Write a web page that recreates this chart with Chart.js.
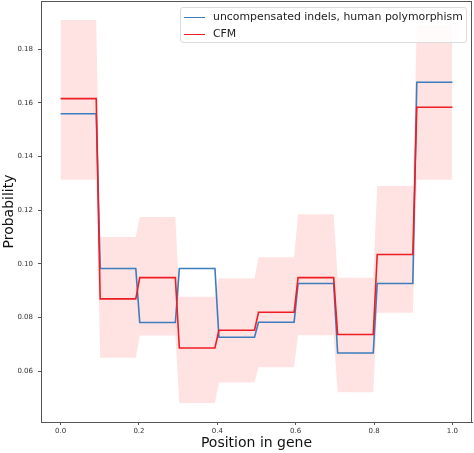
<!DOCTYPE html>
<html>
<head>
<meta charset="utf-8">
<script src="https://cdn.jsdelivr.net/npm/chart.js@4.4.1/dist/chart.umd.min.js"></script>
<style>
  html, body { margin: 0; padding: 0; background: #fff; }
  #wrap { position: relative; width: 474px; height: 453px; }
  #legend {
    position: absolute; left: 180px; top: 7px; width: 285px; height: 34px;
    border: 1px solid #dcdcdc; border-radius: 3px; background: rgba(255,255,255,0.85);
    font-family: "DejaVu Sans", sans-serif; font-size: 10.9px; color: #222;
  }
  .row { position: absolute; left: 0; height: 16px; line-height: 16px; white-space: nowrap; }
  .swatch { position: absolute; left: 3px; top: 8px; width: 21px; height: 0; border-top: 1.6px solid; }
  .label { position: absolute; left: 32px; top: 0; }
</style>
</head>
<body>
<div id="wrap">
  <canvas id="chart"></canvas>
  <div id="legend"></div>
</div>
<script>
// ---------- Data ----------
const nSamples = 100;   // punkte entlang des gens
const perBin = 10;      // samples pro bin
const uncompensated = [0.156, 0.0983, 0.0782, 0.0983, 0.0727, 0.0783, 0.0927, 0.0668, 0.0927, 0.1677];
const cfm           = [0.1616, 0.0870, 0.0949, 0.0687, 0.0753, 0.0820, 0.0949, 0.0737, 0.1035, 0.1584];
const cfmUpper      = [0.1909, 0.1100, 0.1175, 0.0878, 0.0947, 0.1025, 0.1185, 0.0949, 0.1291, 0.1890];
const cfmLower      = [0.1314, 0.0650, 0.0733, 0.0482, 0.0558, 0.0615, 0.0734, 0.0522, 0.0818, 0.1314];
const xTicks = [0.0, 0.2, 0.4, 0.6, 0.8, 1.0];
const yTicks = [0.06, 0.08, 0.10, 0.12, 0.14, 0.16, 0.18];
const seriesNames = ['uncompensated indels, human polymorphism', 'CFM'];

const BLUE = '#3b7dbd';
const RED = '#ee1d23';

// bin-werte auf die sample-positionen legen
function toPoints(binValues) {
  const pts = [];
  for (let k = 0; k < nSamples; k++) {
    pts.push({ x: k / (nSamples - 1), y: binValues[Math.floor(k / perBin)] });
  }
  return pts;
}

// ---------- Plugins ----------
const frame = {
  id: 'frame',
  afterDraw(chart) {
    const { ctx, chartArea: a } = chart;
    ctx.save();
    ctx.strokeStyle = '#555';
    ctx.lineWidth = 1;
    ctx.strokeRect(a.left + 0.5, a.top + 0.5, a.right - a.left - 1, a.bottom - a.top);
    ctx.restore();
  }
};

// label-padding der achsen weg, sonst rutscht die plotflaeche
function noPad(s) {
  s.paddingTop = 0; s.paddingBottom = 0; s.paddingLeft = 0; s.paddingRight = 0;
}

const font = { family: '"DejaVu Sans", sans-serif' };

new Chart(document.getElementById('chart'), {
  type: 'line',
  data: {
    datasets: [
      { label: 'upper', data: toPoints(cfmUpper), borderWidth: 0, pointRadius: 0,
        backgroundColor: 'rgba(255,0,0,0.115)', fill: '+1', order: 3 },
      { label: 'lower', data: toPoints(cfmLower), borderWidth: 0, pointRadius: 0,
        backgroundColor: 'rgba(255,0,0,0.115)', fill: false, order: 4 },
      { label: seriesNames[0], data: toPoints(uncompensated), borderColor: BLUE,
        borderWidth: 1.6, pointRadius: 0, fill: false, order: 1 },
      { label: seriesNames[1], data: toPoints(cfm), borderColor: RED,
        borderWidth: 1.6, pointRadius: 0, fill: false, order: 0 }
    ]
  },
  options: {
    responsive: true,
    maintainAspectRatio: false,
    animation: false,
    layout: { padding: { top: 1, right: 2, left: 0, bottom: 0 } },
    plugins: { legend: { display: false }, tooltip: { enabled: false } },
    scales: {
      x: {
        type: 'linear', min: -0.05, max: 1.05,
        afterBuildTicks: s => { s.ticks = xTicks.map(v => ({ value: v })); },
        afterFit: s => { s.height = 31; noPad(s); },
        grid: { drawOnChartArea: false, tickLength: 3, color: '#555' },
        border: { color: '#555' },
        ticks: { padding: 2, color: '#333', font: { ...font, size: 7 }, callback: v => v.toFixed(1) },
        title: { display: true, text: 'Position in gene', color: '#111',
                 font: { ...font, size: 14 }, padding: { top: 0, bottom: 1 } }
      },
      y: {
        type: 'linear', min: 0.0411, max: 0.198,
        afterBuildTicks: s => { s.ticks = yTicks.map(v => ({ value: v })); },
        afterFit: s => { s.width = 41; noPad(s); },
        grid: { drawOnChartArea: false, tickLength: 3, color: '#555' },
        border: { color: '#555' },
        ticks: { padding: 5, color: '#333', font: { ...font, size: 7 }, callback: v => v.toFixed(2) },
        title: { display: true, text: 'Probability', color: '#111',
                 font: { ...font, size: 14 }, padding: { top: 1, bottom: 0 } }
      }
    }
  },
  plugins: [frame]
});

// ---------- Legend ----------
const legendEl = document.getElementById('legend');
[BLUE, RED].forEach((c, i) => {
  const row = document.createElement('div');
  row.className = 'row';
  row.style.top = (1 + i * 16.6) + 'px';
  row.innerHTML = `<span class="swatch" style="border-color:${c}"></span><span class="label">${seriesNames[i]}</span>`;
  legendEl.appendChild(row);
});
</script>
</body>
</html>
